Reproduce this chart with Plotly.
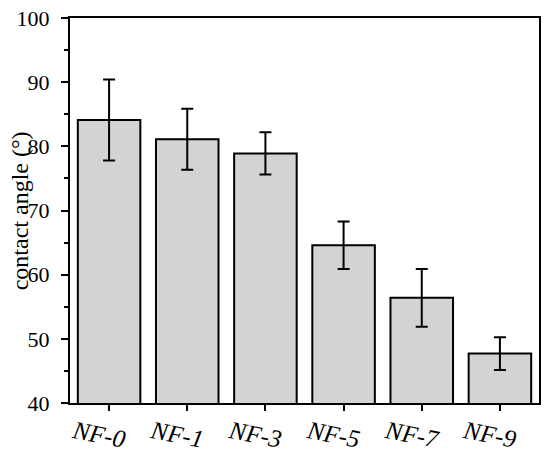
import plotly.graph_objects as go

categories = ["NF-0", "NF-1", "NF-3", "NF-5", "NF-7", "NF-9"]
angles = [84.1, 81.1, 78.9, 64.6, 56.4, 47.7]
errors = [6.3, 4.75, 3.3, 3.7, 4.5, 2.55]
y_title = "contact angle (°)"

FONT = "Times New Roman, Liberation Serif, Tinos, serif"

fig = go.Figure()
fig.add_trace(go.Bar(
    x=categories, y=angles,
    width=0.8,
    marker=dict(color="#d3d3d3", line=dict(color="black", width=2)),
    error_y=dict(type="data", array=errors, visible=True, color="black",
                 thickness=2, width=6),
))

fig.update_layout(
    width=550, height=455,
    margin=dict(l=70, r=11, t=18, b=52, autoexpand=False),
    plot_bgcolor="white", paper_bgcolor="white",
    showlegend=False,
    font=dict(family=FONT, color="black"),
    xaxis=dict(
        range=[-0.5, 5.5],
        automargin=False,
        showline=True, linecolor="black", linewidth=2, mirror=True,
        ticks="outside", ticklen=6, tickwidth=2, tickcolor="black",
        tickangle=11,
        ticklabelshift=-35,
        ticklabelstandoff=-3,
        tickfont=dict(family=FONT, size=25, style="italic"),
        showgrid=False, zeroline=False,
    ),
    yaxis=dict(
        range=[40, 100],
        automargin=False,
        tickvals=[40, 50, 60, 70, 80, 90, 100],
        showline=True, linecolor="black", linewidth=2, mirror=True,
        ticks="outside", ticklen=7, tickwidth=2, tickcolor="black",
        minor=dict(dtick=5, ticks="outside", ticklen=4, tickwidth=2, tickcolor="black", showgrid=False),
        tickfont=dict(family=FONT, size=22),
        ticklabelstandoff=7,
        showgrid=False, zeroline=False,
    ),
    annotations=[dict(
        text=y_title, textangle=-90,
        xref="paper", yref="paper", x=-0.107, y=0.5,
        xanchor="center", yanchor="middle", showarrow=False,
        font=dict(family=FONT, size=24, color="black"),
    )],
)

fig.write_html(
    "out.html",
    config={"displayModeBar": False},
    post_script="document.body.style.margin='0';document.body.style.overflow='hidden';",
)
